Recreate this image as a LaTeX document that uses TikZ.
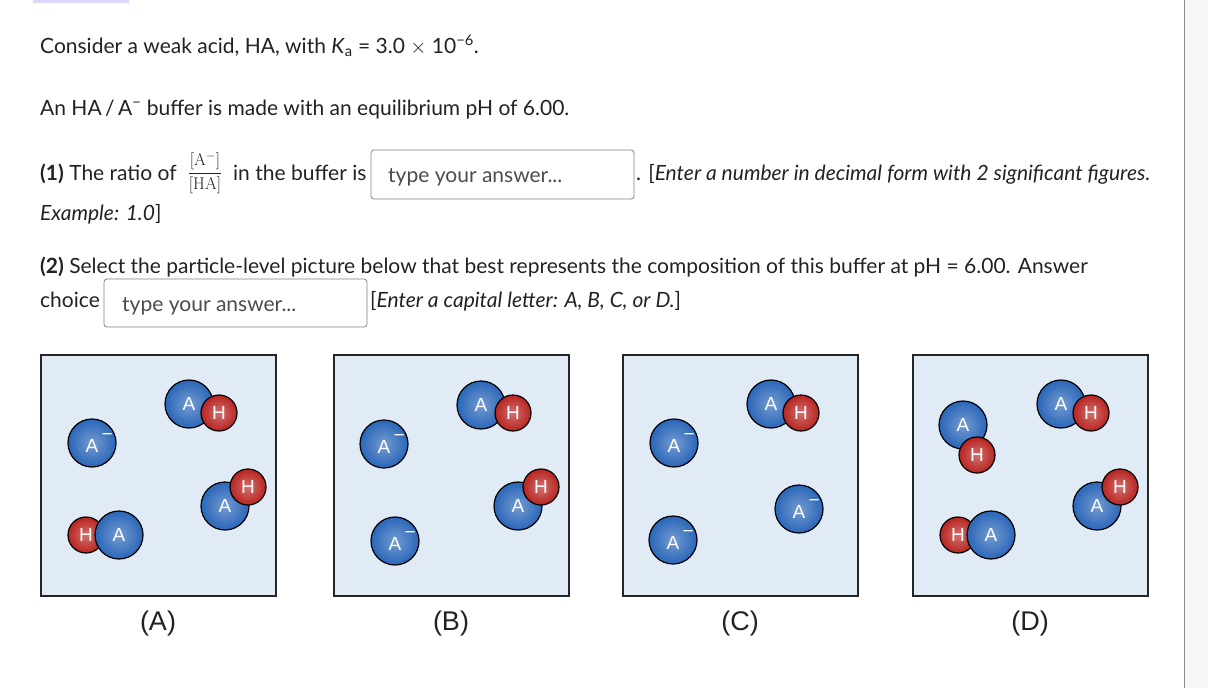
\documentclass[tikz,border=0pt]{standalone}
\usepackage{fontspec}
\setmainfont{Lato}
\newfontfamily\arialf{Liberation Sans}
\newfontfamily\lmr{Latin Modern Roman}
\usetikzlibrary{calc}
\definecolor{boxbg}{HTML}{E1EBF5}
\definecolor{ablue}{HTML}{2A66B8}
\definecolor{hred}{HTML}{B82420}
\definecolor{txt}{HTML}{222222}
\tikzset{
  txtn/.style={anchor=base west,inner sep=0pt,text=txt,font=\fontsize{21}{24}\selectfont},
  atomA/.style={circle,draw=black,line width=1.2pt,minimum size=48pt,inner sep=0pt,
     inner color=ablue!65!white,outer color=ablue,text=white,font=\arialf\fontsize{19}{19}\selectfont},
  atomH/.style={circle,draw=black,line width=1.2pt,minimum size=36pt,inner sep=0pt,
     inner color=hred!65!white,outer color=hred,text=white,font=\arialf\fontsize{19}{19}\selectfont},
  panel/.style={draw=black!85,line width=1.2pt,fill=boxbg},
  inbox/.style={draw=black!50,line width=0.8pt,rounded corners=3pt},
  plabel/.style={text=txt,font=\arialf\fontsize{27}{27}\selectfont}
}
\begin{document}
\begin{tikzpicture}[x=1pt,y=-1pt]
\useasboundingbox (0,0) rectangle (1208,688);
\fill[white] (0,0) rectangle (1208,688);
\fill[black!3] (1184,0) rectangle (1208,688);
\draw[black!45,line width=1pt] (1184,0) -- (1184,688);
\fill[blue!15] (33,0) rectangle (129,2.5);
% text
\node[txtn] (t1) at (40,53) {Consider a weak acid, HA, with \textit{K}\textsubscript{a} = 3.0 $\times$ 10\textsuperscript{−6}.};
\node[txtn] (t2) at (40,115) {An HA\,/\,A\textsuperscript{−} buffer is made with an equilibrium pH of 6.00.};
\node[txtn] (t3) at (40,180) {\textbf{(1)} The ratio of};
\node[anchor=center,inner sep=0pt,text=txt] (frac) at (205,173) {\fontsize{17}{17}\selectfont$\displaystyle\frac{\hbox{\lmr[A$^-$]}}{\hbox{\lmr[HA]}}$};
\node[txtn] (t3b) at (233,180) {in the buffer is};
\draw[inbox] (371,150) rectangle (634,199);
\node[txtn,text=black!70] (b1) at (388,182) {type your answer...};
\node[txtn] (t3c) at (636,180) {. [\textit{Enter a number in decimal form with 2 significant figures.}};
\node[txtn] (t4) at (40,220) {\textit{Example: 1.0}]};
\node[txtn] (t5) at (40,273) {\textbf{(2)} Select the particle-level picture below that best represents the composition of this buffer at pH = 6.00. Answer};
\node[txtn] (t6) at (40,307) {choice};
\draw[inbox] (104,279) rectangle (367,327);
\node[txtn,text=black!70] (b2) at (122,311) {type your answer...};
\node[txtn] (t6b) at (370,307) {[\textit{Enter a capital letter: A, B, C, or D.}]};
% panels
\foreach \x/\l in {41/A,334/B,623/C,913/D}{
  \draw[panel] (\x,355) rectangle ++(235,241);
  \node[plabel] (lab\l) at (\x+117,624) {(\l)};
}
% Panel A
\node[atomA] (a1) at (92,443) {A\rlap{\raisebox{1.1ex}{\,−}}};
\node[atomA] (a2) at (189,404) {A}; \node[atomH] (h2) at (219,413) {H};
\node[atomA] (a3) at (225,506) {A}; \node[atomH] (h3) at (248,487) {H};
\node[atomH] (h4) at (86,535) {H}; \node[atomA] (a4) at (119,535) {A};
% Panel B
\node[atomA] (b1a) at (384,444) {A\rlap{\raisebox{1.1ex}{\,−}}};
\node[atomA] (b2a) at (481,405) {A}; \node[atomH] (b2h) at (513,413) {H};
\node[atomA] (b3a) at (518,506) {A}; \node[atomH] (b3h) at (541,487) {H};
\node[atomA] (b4a) at (395,541) {A\rlap{\raisebox{1.1ex}{\,−}}};
% Panel C
\node[atomA] (c1a) at (674,443) {A\rlap{\raisebox{1.1ex}{\,−}}};
\node[atomA] (c2a) at (771,404) {A}; \node[atomH] (c2h) at (801,413) {H};
\node[atomA] (c3a) at (799,509) {A\rlap{\raisebox{1.1ex}{\,−}}};
\node[atomA] (c4a) at (673,540) {A\rlap{\raisebox{1.1ex}{\,−}}};
% Panel D
\node[atomA] (d1a) at (963,425) {A}; \node[atomH] (d1h) at (977,455) {H};
\node[atomA] (d2a) at (1061,404) {A}; \node[atomH] (d2h) at (1091,413) {H};
\node[atomA] (d3a) at (1097,506) {A}; \node[atomH] (d3h) at (1120,487) {H};
\node[atomH] (d4h) at (958,535) {H}; \node[atomA] (d4a) at (991,535) {A};
\end{tikzpicture}
\end{document}
